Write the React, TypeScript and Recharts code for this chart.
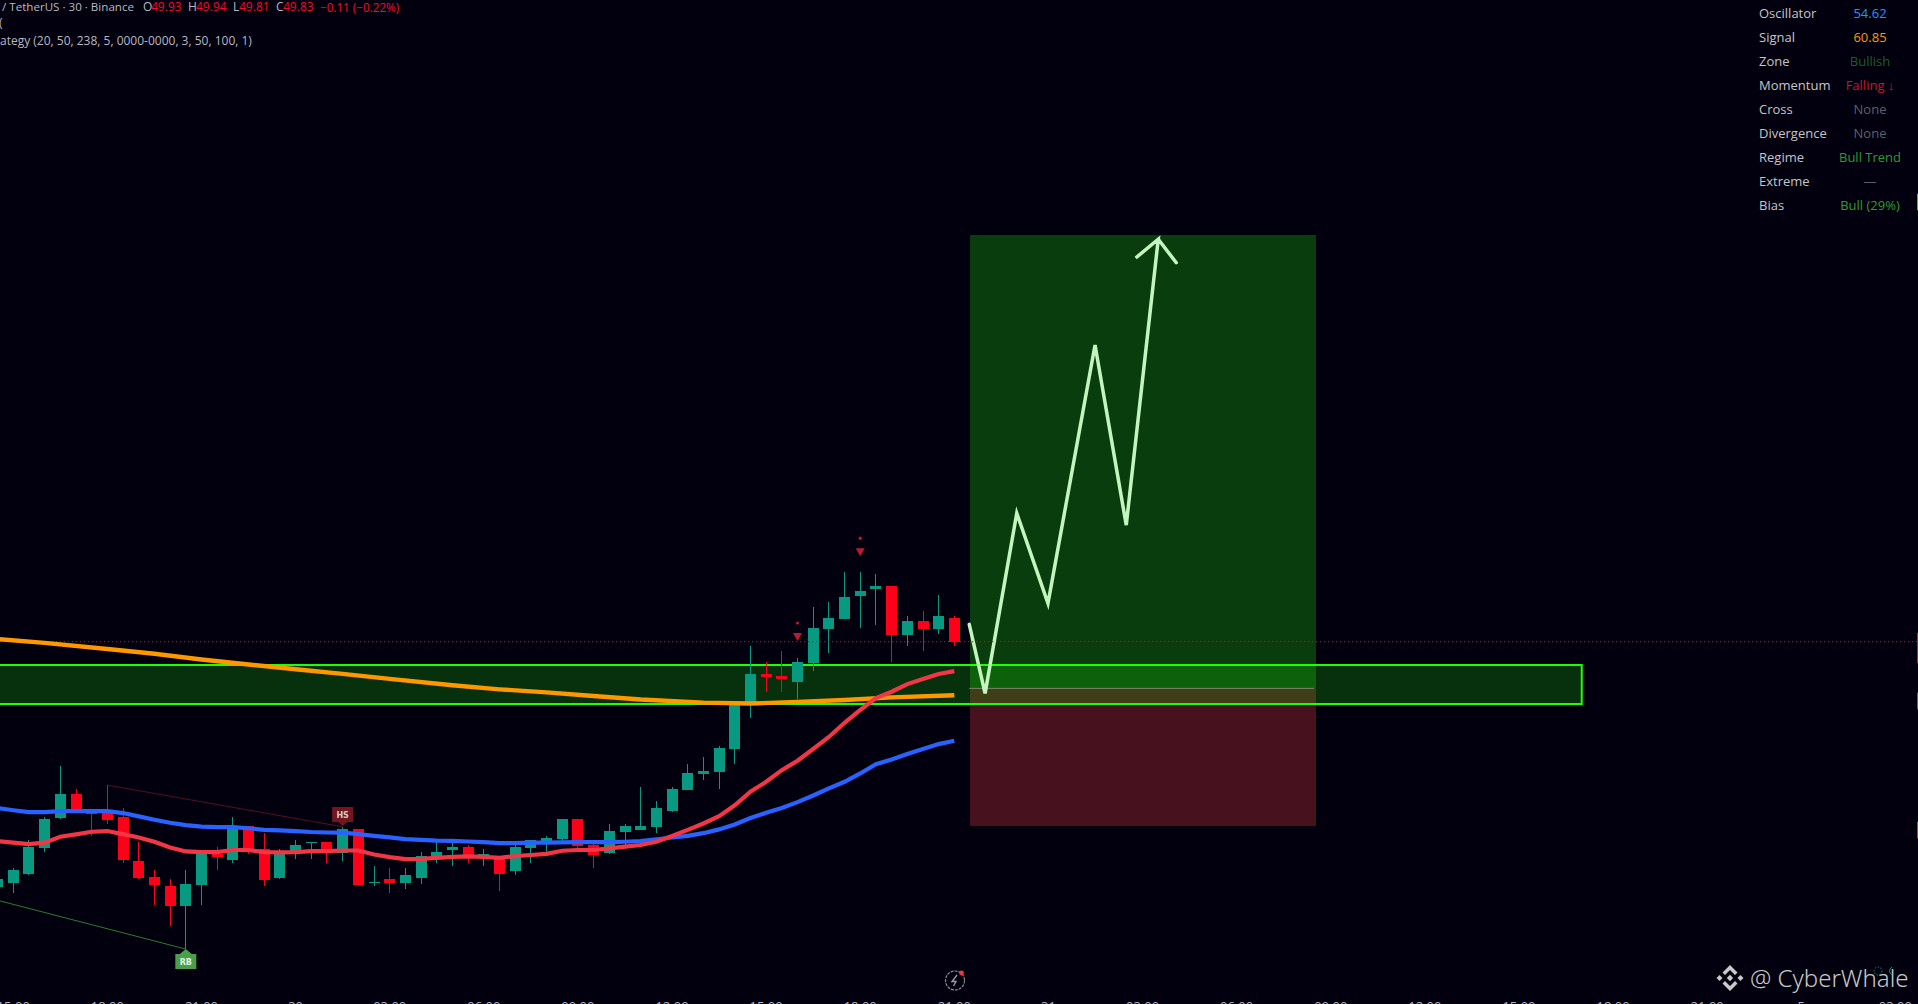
import React from 'react';
import { ComposedChart, Bar, Line, XAxis, YAxis, ReferenceArea, ReferenceLine, ReferenceDot } from 'recharts';

// index 0 is the first candle on the left edge, 61 the last one
const opens = [48.794, 48.811, 48.849, 48.959, 49.086, 49.187, 49.119, 49.111, 49.090, 48.904, 48.837, 48.799, 48.714, 48.803, 48.934, 48.908, 49.052, 48.955, 48.832, 48.938, 48.980, 48.984, 48.938, 49.039, 48.811, 48.828, 48.811, 48.832, 48.921, 48.951, 48.963, 48.921, 48.925, 48.862, 48.959, 48.989, 48.997, 49.081, 48.972, 48.938, 49.027, 49.035, 49.048, 49.115, 49.204, 49.271, 49.280, 49.377, 49.563, 49.694, 49.685, 49.660, 49.740, 49.884, 49.926, 50.023, 50.052, 50.065, 49.858, 49.917, 49.884, 49.930];
const highs = [48.835, 48.875, 48.993, 49.090, 49.305, 49.208, 49.119, 49.225, 49.128, 48.984, 48.866, 48.828, 48.866, 48.942, 48.963, 49.090, 49.052, 49.022, 48.955, 48.993, 48.984, 48.984, 49.048, 49.039, 48.883, 48.875, 48.875, 48.942, 48.993, 48.989, 48.972, 48.955, 48.925, 48.972, 48.993, 49.010, 49.081, 49.081, 48.984, 49.060, 49.060, 49.216, 49.157, 49.216, 49.313, 49.343, 49.390, 49.567, 49.812, 49.744, 49.791, 49.761, 49.976, 49.998, 50.124, 50.124, 50.116, 50.065, 49.938, 49.960, 50.027, 49.940];
const lows = [48.780, 48.769, 48.845, 48.942, 49.081, 49.115, 49.010, 49.060, 48.896, 48.828, 48.719, 48.630, 48.532, 48.719, 48.866, 48.896, 48.934, 48.799, 48.828, 48.913, 48.913, 48.896, 48.904, 48.803, 48.799, 48.769, 48.786, 48.807, 48.896, 48.883, 48.896, 48.883, 48.778, 48.845, 48.896, 48.925, 48.984, 48.942, 48.875, 48.934, 48.955, 49.035, 49.022, 49.111, 49.204, 49.246, 49.208, 49.314, 49.508, 49.618, 49.618, 49.588, 49.706, 49.782, 49.926, 49.888, 49.900, 49.744, 49.812, 49.791, 49.862, 49.810];
const closes = [48.828, 48.866, 48.963, 49.081, 49.187, 49.115, 49.105, 49.077, 48.908, 48.832, 48.803, 48.714, 48.807, 48.934, 48.921, 49.052, 48.951, 48.824, 48.943, 48.972, 48.984, 48.938, 49.039, 48.803, 48.815, 48.811, 48.845, 48.925, 48.942, 48.963, 48.921, 48.934, 48.849, 48.963, 48.993, 49.001, 49.081, 48.967, 48.930, 49.031, 49.052, 49.052, 49.128, 49.208, 49.275, 49.284, 49.381, 49.567, 49.694, 49.681, 49.673, 49.744, 49.888, 49.930, 50.019, 50.044, 50.065, 49.858, 49.917, 49.884, 49.938, 49.830];

const emaFast = [48.989, 48.982, 48.976, 48.982, 49.007, 49.017, 49.028, 49.031, 49.018, 49.004, 48.986, 48.962, 48.945, 48.942, 48.942, 48.951, 48.951, 48.942, 48.941, 48.942, 48.946, 48.946, 48.949, 48.949, 48.932, 48.921, 48.913, 48.914, 48.918, 48.922, 48.924, 48.922, 48.918, 48.925, 48.930, 48.935, 48.948, 48.951, 48.951, 48.958, 48.965, 48.972, 48.986, 49.010, 49.036, 49.063, 49.094, 49.140, 49.197, 49.239, 49.288, 49.328, 49.377, 49.428, 49.488, 49.542, 49.592, 49.619, 49.651, 49.673, 49.694, 49.706];
const emaSlow = [49.128, 49.119, 49.111, 49.111, 49.115, 49.115, 49.115, 49.115, 49.107, 49.093, 49.079, 49.066, 49.056, 49.050, 49.048, 49.048, 49.043, 49.036, 49.034, 49.031, 49.027, 49.025, 49.024, 49.018, 49.011, 49.004, 48.997, 48.994, 48.991, 48.990, 48.987, 48.984, 48.980, 48.980, 48.982, 48.982, 48.983, 48.984, 48.984, 48.984, 48.986, 48.989, 48.996, 49.004, 49.011, 49.022, 49.038, 49.059, 49.086, 49.108, 49.128, 49.153, 49.181, 49.211, 49.239, 49.274, 49.313, 49.333, 49.356, 49.377, 49.398, 49.412];

const emaLongIdx = [-2, 0, 3, 7, 10, 13, 16, 19, 22, 25, 29, 32, 35, 38, 41, 45, 48, 51, 54, 57, 61];
const emaLong = [49.855, 49.841, 49.825, 49.799, 49.779, 49.755, 49.734, 49.714, 49.694, 49.673, 49.646, 49.629, 49.616, 49.601, 49.586, 49.573, 49.569, 49.576, 49.584, 49.595, 49.604];

const pathIdx = [61.95, 62.96, 64.98, 66.97, 69.97, 71.96, 74.0, 72.56, 74.0, 75.15];
const pathPrice = [49.903, 49.612, 50.372, 49.992, 51.082, 50.322, 51.528, 51.449, 51.528, 51.429];

const tickIdx = [1, 7, 13, 19, 25, 31, 37, 43, 49, 55, 61, 67, 73, 79, 85, 91, 97, 103, 109, 115, 121];
const tickLabels = ['15:00', '18:00', '21:00', '30', '03:00', '06:00', '09:00', '12:00', '15:00', '18:00', '21:00', '31', '03:00', '06:00', '09:00', '12:00', '15:00', '18:00', '21:00', '5', '03:00'];

const tableLabels = ['Oscillator', 'Signal', 'Zone', 'Momentum', 'Cross', 'Divergence', 'Regime', 'Extreme', 'Bias'];
const tableValues = ['54.62', '60.85', 'Bullish', 'Falling ↓', 'None', 'None', 'Bull Trend', '—', 'Bull (29%)'];
const tableColors = ['#2196f3', '#ff9800', '#1b5e20', '#c8172c', '#5d606b', '#5d606b', '#2e9b2e', '#5d606b', '#2e9b2e'];

// price labels of the scale, only their left pixel shows at the right edge
const scaleTops = [51.72, 49.867, 49.615, 49.07];
const scaleBottoms = [51.65, 49.74, 49.545, 49.0];
const scaleColors = ['#34d534', '#e0173c', '#6a6d78', '#c8405a'];

const rows = opens.map((o, i) => ({ i, range: [lows[i], highs[i]], o, h: highs[i], l: lows[i], c: closes[i], fast: emaFast[i], slow: emaSlow[i] }));
const longRows = emaLong.map((p, k) => ({ i: emaLongIdx[k], p }));
const pathRows = pathPrice.map((p, k) => ({ i: pathIdx[k], p }));
const bearLine = [{ i: 7, p: 49.225 }, { i: 22, p: 49.049 }];
const bullLine = [{ i: -1, p: 48.756 }, { i: 12, p: 48.533 }];

const GREEN = '#089981';
const RED = '#ff0019';
const BG = '#02000f';

function Candle(props: any) {
  const { x, y, width, height, payload } = props;
  const { o, h, l, c } = payload;
  const perUnit = height / (h - l);
  const top = y + (h - Math.max(o, c)) * perUnit;
  const bodyH = Math.max((Math.max(o, c) - Math.min(o, c)) * perUnit, 1);
  const color = c >= o ? GREEN : RED;
  const cx = Math.round(x + width / 2);
  return (
    <g>
      <rect x={cx - 0.5} y={y} width={1} height={height} fill={color} shapeRendering="crispEdges" />
      <rect x={cx - 5.5} y={top} width={11} height={bodyH} fill={color} shapeRendering="crispEdges" />
    </g>
  );
}

function TimeTick(props: any) {
  const { x, payload } = props;
  return (
    <text x={x} y={1011} textAnchor="middle" fontSize={13} fontFamily='"Open Sans", sans-serif' fill="#b2b5be">
      {tickLabels[tickIdx.indexOf(payload.value)]}
    </text>
  );
}

function FlagDown(props: any) {
  const { cx, cy } = props;
  return (
    <g>
      <path d={`M${cx - 10.5} ${cy - 19} h21 v15 h-6 l-4.5 4 l-4.5 -4 h-6 z`} fill="#741620" />
      <text x={cx} y={cy - 8} textAnchor="middle" fontSize={8} fontWeight={700} fontFamily="DejaVu Sans" fill="#d8c8c8">HS</text>
    </g>
  );
}

function FlagUp(props: any) {
  const { cx, cy } = props;
  return (
    <g>
      <path d={`M${cx} ${cy} l6 5 h4.5 v15 h-21 v-15 h4.5 z`} fill="#4b9f4b" />
      <text x={cx} y={cy + 15.5} textAnchor="middle" fontSize={8} fontWeight={700} fontFamily="DejaVu Sans" fill="#dff2df">RB</text>
    </g>
  );
}

function SellMark(props: any) {
  const { cx, cy } = props;
  return (
    <g fill="#b81c30">
      <path d={`M${cx - 4.5} ${cy - 8} h9 l-4.5 8 z`} />
      <circle cx={cx} cy={cy - 18} r={1.6} />
    </g>
  );
}

function Legend() {
  const base: React.CSSProperties = { position: 'absolute', whiteSpace: 'nowrap', fontFamily: '"Open Sans", sans-serif', fontSize: 12, lineHeight: '14px', color: '#b8b9c0' };
  const red: React.CSSProperties = { ...base, color: '#f20a2a' };
  return (
    <>
      <div style={{ ...base, left: 2, top: 0, fontSize: 11.6 }}>/ TetherUS · 30 · Binance</div>
      <div style={{ ...base, left: 143, top: 0 }}>O</div>
      <div style={{ ...red, left: 151, top: 0 }}>49.93</div>
      <div style={{ ...base, left: 188, top: 0 }}>H</div>
      <div style={{ ...red, left: 196, top: 0 }}>49.94</div>
      <div style={{ ...base, left: 233, top: 0 }}>L</div>
      <div style={{ ...red, left: 239, top: 0 }}>49.81</div>
      <div style={{ ...base, left: 276, top: 0 }}>C</div>
      <div style={{ ...red, left: 283, top: 0 }}>49.83</div>
      <div style={{ ...red, left: 320, top: 0, fontSize: 11.7 }}>−0.11 (−0.22%)</div>
      <div style={{ ...base, left: -1, top: 16 }}>(</div>
      <div style={{ ...base, left: 0, top: 34 }}>ategy (20, 50, 238, 5, 0000-0000, 3, 50, 100, 1)</div>
    </>
  );
}

function InfoTable() {
  const font = '"Open Sans", sans-serif';
  return (
    <>
      {tableLabels.map((label, k) => (
        <div key={label}>
          <div style={{ position: 'absolute', left: 1759, top: 5 + k * 24, fontFamily: font, fontWeight: 500, fontSize: 13, lineHeight: '16px', color: '#c6c6c8' }}>{label}</div>
          <div style={{ position: 'absolute', left: 1820, width: 100, top: 5 + k * 24, textAlign: 'center', fontFamily: font, fontSize: 13, lineHeight: '16px', color: tableColors[k] }}>{tableValues[k]}</div>
        </div>
      ))}
    </>
  );
}

function Watermark() {
  return (
    <>
      <svg style={{ position: 'absolute', left: 944, top: 969 }} width={24} height={22} viewBox="0 0 24 22">
        <circle cx={11} cy={11.5} r={9.5} fill="none" stroke="#8b8b90" strokeWidth={1.2} strokeDasharray="3 1" />
        <path d="M13 6 L8 12.5 h4 L9.5 17" fill="none" stroke="#9a9aa0" strokeWidth={1.4} />
        <circle cx={17.5} cy={4} r={2.4} fill="#f23645" />
      </svg>
      <svg style={{ position: 'absolute', left: 1716, top: 964 }} width={28} height={28} viewBox="0 0 28 28" fill="#c9c9c9">
        <path d="M14 1 L21.5 8.5 L19 11 L14 6 L9 11 L6.5 8.5 Z" />
        <path d="M14 27 L21.5 19.5 L19 17 L14 22 L9 17 L6.5 19.5 Z" />
        <path d="M3.5 11 L6.5 14 L3.5 17 L0.5 14 Z" />
        <path d="M24.5 11 L27.5 14 L24.5 17 L21.5 14 Z" />
        <path d="M14 10.8 L17.2 14 L14 17.2 L10.8 14 Z" />
      </svg>
      <div style={{ position: 'absolute', left: 1750, top: 961, fontFamily: '"Noto Sans", sans-serif', fontWeight: 300, fontSize: 24, lineHeight: '34px', color: '#c9c9c9', whiteSpace: 'nowrap' }}>@ CyberWhale</div>
      <svg style={{ position: 'absolute', left: 1872, top: 965 }} width={22} height={12} viewBox="0 0 22 12">
        <circle cx={6} cy={6} r={4} fill="none" stroke="#089981" strokeWidth={1} strokeDasharray="1.5 1.5" />
        <path d="M20 2 Q15 6 20 10" fill="none" stroke="#089981" strokeWidth={1} />
      </svg>
    </>
  );
}

export default function App() {
  return (
    <div style={{ position: 'fixed', left: 0, top: 0, width: 1918, height: 1004, overflow: 'hidden', background: BG }}>
      <div style={{ position: 'absolute', left: -40, top: 0 }}>
        <ComposedChart width={1958} height={1040} data={rows} margin={{ top: 0, right: 0, bottom: 0, left: 0 }}>
          <XAxis
            type="number"
            dataKey="i"
            domain={[-2.397, 122.44]}
            allowDataOverflow
            ticks={tickIdx}
            interval={0}
            height={36}
            axisLine={false}
            tickLine={false}
            tick={<TimeTick />}
          />
          <YAxis type="number" domain={[48.3013, 52.5376]} allowDataOverflow hide />

          <ReferenceArea x1={62} x2={84.06} y1={49.633} y2={51.546} fill="#0a3d0e" fillOpacity={1} stroke="none" />
          <ReferenceArea x1={62} x2={84.06} y1={49.052} y2={49.633} fill="#47121e" fillOpacity={1} stroke="none" />
          <ReferenceLine segment={[{ x: 61.95, y: 49.633 }, { x: 83.95, y: 49.633 }]} stroke="#7d8570" strokeWidth={1} />

          <Line data={pathRows} dataKey="p" type="linear" stroke="#c4f5be" strokeWidth={3.5} strokeLinecap="round" strokeLinejoin="miter" dot={false} activeDot={false} isAnimationActive={false} />

          <ReferenceArea x1={-3} x2={101} y1={49.567} y2={49.732} fill="#22ff00" fillOpacity={0.19} stroke="#1fff00" strokeWidth={2} ifOverflow="visible" />
          <ReferenceLine y={49.83} stroke="#c01030" strokeWidth={1} strokeDasharray="1.3 2.7" />

          {scaleTops.map((top, k) => (
            <ReferenceArea key={k} x1={122.38} x2={122.44} y1={scaleBottoms[k]} y2={top} fill={scaleColors[k]} fillOpacity={1} stroke="none" />
          ))}

          <Line data={bearLine} dataKey="p" type="linear" stroke="#561020" strokeWidth={1} dot={false} activeDot={false} isAnimationActive={false} />
          <Line data={bullLine} dataKey="p" type="linear" stroke="#2f7a2f" strokeWidth={1} dot={false} activeDot={false} isAnimationActive={false} />

          <Line data={longRows} dataKey="p" type="linear" stroke="#ff9800" strokeWidth={4.4} dot={false} activeDot={false} isAnimationActive={false} />
          <Line dataKey="slow" type="linear" stroke="#2962ff" strokeWidth={4.2} dot={false} activeDot={false} isAnimationActive={false} />
          <Line dataKey="fast" type="linear" stroke="#f23645" strokeWidth={4.2} dot={false} activeDot={false} isAnimationActive={false} />

          <Bar dataKey="range" barSize={11} shape={<Candle />} isAnimationActive={false} />

          <ReferenceDot x={22} y={49.052} r={0} shape={<FlagDown />} />
          <ReferenceDot x={12} y={48.533} r={0} shape={<FlagUp />} />
          <ReferenceDot x={51} y={49.833} r={0} shape={<SellMark />} />
          <ReferenceDot x={55} y={50.191} r={0} shape={<SellMark />} />
        </ComposedChart>
      </div>
      <Legend />
      <InfoTable />
      <Watermark />
    </div>
  );
}
